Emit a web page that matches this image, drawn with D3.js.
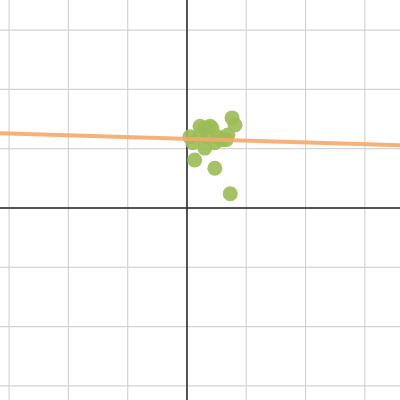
<!DOCTYPE html>
<html><head><meta charset="utf-8">
<script src="https://cdn.jsdelivr.net/npm/d3@7"></script>
<style>body{margin:0;background:#fff}</style>
</head><body>
<div id="chart"></div>
<script>
// data (graph units)
const pointsX = [0.76, 0.81, 0.22, 0.39, 0.30, 0.42, 0.05, 0.10, 0.30, 0.47, 0.59, 0.69, 0.66, 0.13, 0.47, 0.73, 0.22, 0.35, 0.52];
const pointsY = [1.52, 1.40, 1.38, 1.38, 1.35, 1.35, 1.20, 1.10, 1.01, 1.10, 1.15, 1.23, 1.15, 0.81, 0.67, 0.24, 1.23, 1.20, 1.20];
const fitLine = { slope: -0.03, intercept: 1.165 };
const gridTicks = d3.range(-4, 5);

const W = 400, H = 400;
const x = d3.scaleLinear().domain([-3.153, 3.592]).range([0, W]);
const y = d3.scaleLinear().domain([-3.238, 3.508]).range([H, 0]);

const svg = d3.select('#chart').append('svg').attr('width', W).attr('height', H);

svg.append('g').selectAll('line').data(gridTicks).join('line')
  .attr('x1', d => x(d)).attr('x2', d => x(d)).attr('y1', 0).attr('y2', H)
  .attr('stroke', '#d4d4d4').attr('stroke-width', 1.2);
svg.append('g').selectAll('line').data(gridTicks).join('line')
  .attr('y1', d => y(d)).attr('y2', d => y(d)).attr('x1', 0).attr('x2', W)
  .attr('stroke', '#d4d4d4').attr('stroke-width', 1.2);

// axes
svg.append('line').attr('x1', x(0)).attr('x2', x(0)).attr('y1', 0).attr('y2', H)
  .attr('stroke', '#222').attr('stroke-width', 1.5);
svg.append('line').attr('y1', y(0)).attr('y2', y(0)).attr('x1', 0).attr('x2', W)
  .attr('stroke', '#222').attr('stroke-width', 1.5);

// points
svg.append('g').selectAll('circle').data(pointsX.map((d, i) => [d, pointsY[i]])).join('circle')
  .attr('cx', d => x(d[0])).attr('cy', d => y(d[1])).attr('r', 7.5)
  .attr('fill', '#9bbd55').attr('fill-opacity', 0.9);

// regression line
const xs = x.domain();
svg.append('line')
  .attr('x1', x(xs[0])).attr('y1', y(fitLine.intercept + fitLine.slope * xs[0]))
  .attr('x2', x(xs[1])).attr('y2', y(fitLine.intercept + fitLine.slope * xs[1]))
  .attr('stroke', '#f5a96a').attr('stroke-width', 4).attr('stroke-opacity', 0.9);
</script>
</body></html>
